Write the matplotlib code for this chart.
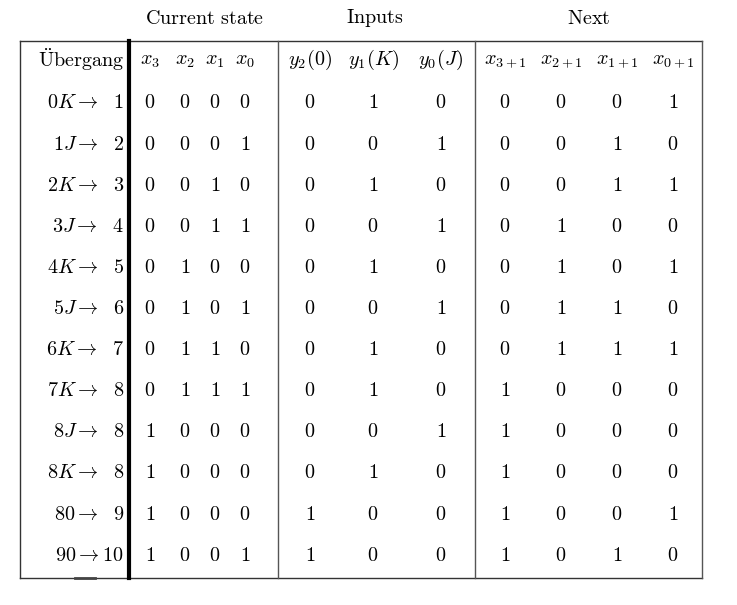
import matplotlib.pyplot as plt

plt.rcParams['mathtext.fontset'] = 'cm'

transitions = [r'0K \rightarrow\ \ 1', r'1J \rightarrow\ \ 2', r'2K \rightarrow\ \ 3', r'3J \rightarrow\ \ 4',
               r'4K \rightarrow\ \ 5', r'5J \rightarrow\ \ 6', r'6K \rightarrow\ \ 7', r'7K \rightarrow\ \ 8',
               r'8J \rightarrow\ \ 8', r'8K \rightarrow\ \ 8', r'80 \rightarrow\ \ 9', r'90 \rightarrow 10']
current = ['0000', '0001', '0010', '0011', '0100', '0101', '0110', '0111', '1000', '1000', '1000', '1001']
inputs = ['010', '001', '010', '001', '010', '001', '010', '010', '001', '010', '100', '100']
nxt = ['0001', '0010', '0011', '0100', '0101', '0110', '0111', '1000', '1000', '1000', '1001', '1010']

headers = [r'x_3', r'x_2', r'x_1', r'x_0', r'y_2(0)', r'y_1(K)', r'y_0(J)',
           r'x_{3+1}', r'x_{2+1}', r'x_{1+1}', r'x_{0+1}']
col_x = [150, 185, 215, 245, 310, 373, 441, 505, 561, 617, 673]

fig = plt.figure(figsize=(7.37, 6.05), dpi=100)
ax = fig.add_axes([0, 0, 1, 1])
ax.set_xlim(0, 737)
ax.set_ylim(605, 0)
ax.axis('off')

fs = 14.5
# group titles
ax.text(205, 18, r'$\mathrm{Current\ state}$', ha='center', va='center', fontsize=fs)
ax.text(375, 18, r'$\mathrm{Inputs}$', ha='center', va='center', fontsize=fs)
ax.text(589, 18, r'$\mathrm{Next}$', ha='center', va='center', fontsize=fs)

# frame lines
top, bot = 41, 578
ax.plot([20, 702], [top, top], color='#333333', lw=1)
ax.plot([20, 702], [bot, bot], color='#333333', lw=1)
ax.plot([75, 95], [bot, bot], color='#444444', lw=2)
ax.plot([20, 20], [top, bot], color='#333333', lw=1)
ax.plot([129, 129], [top, bot], color='black', lw=3)
for xv in [278, 475, 702]:
    ax.plot([xv, xv], [top, bot], color='#555555', lw=1)

# header row
hy = 60
ax.text(124, hy, r'$\mathrm{\ddot{U}bergang}$', ha='right', va='center', fontsize=fs)
for xc, h in zip(col_x, headers):
    ax.text(xc, hy, '$' + h + '$', ha='center', va='center', fontsize=fs)

# body rows
row_y0, dy = 103, 41.1
for i in range(len(transitions)):
    y = row_y0 + i * dy
    ax.text(124, y, '$' + transitions[i] + '$', ha='right', va='center', fontsize=fs)
    vals = current[i] + inputs[i] + nxt[i]
    for xc, v in zip(col_x, vals):
        ax.text(xc, y, '$' + v + '$', ha='center', va='center', fontsize=fs)

fig.savefig('out.png', dpi=100)
